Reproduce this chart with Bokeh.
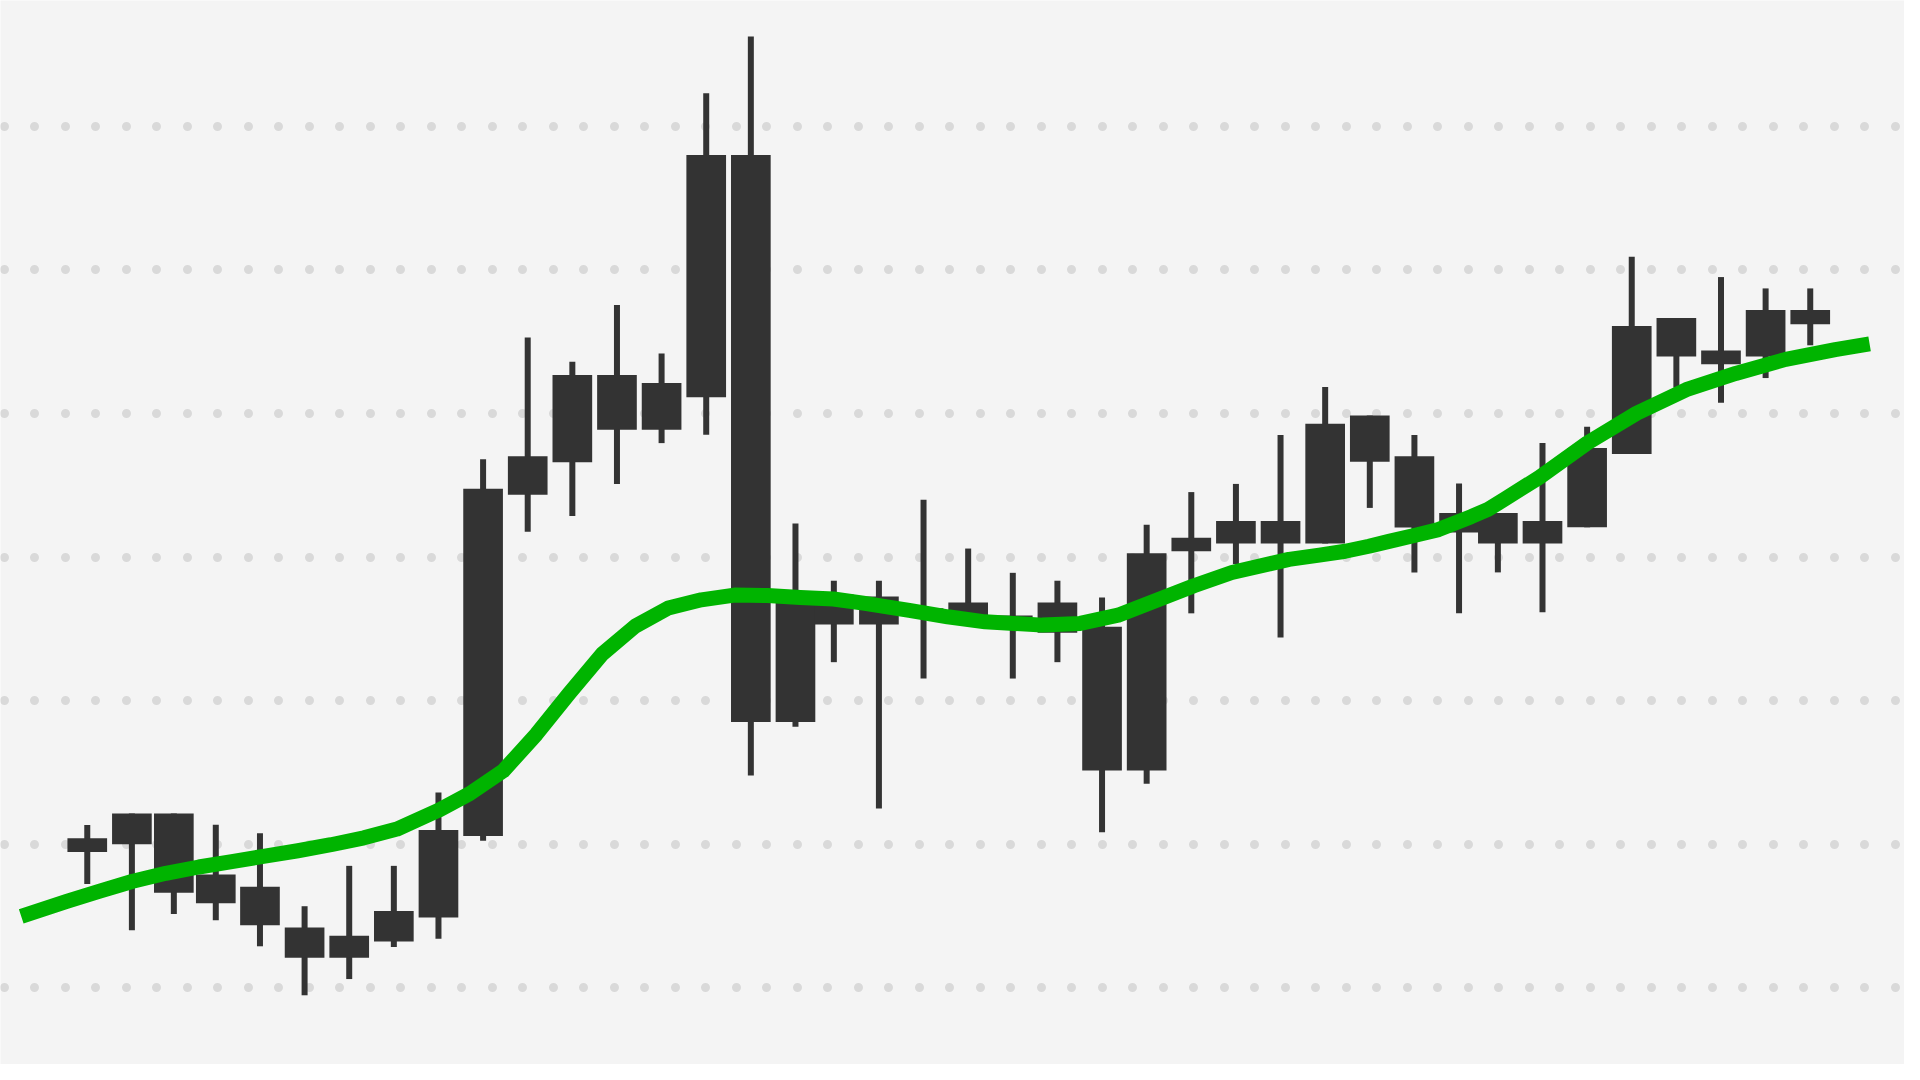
from bokeh.plotting import figure
from bokeh.models import Range1d, Grid, FixedTicker
from bokeh.embed import file_html
from bokeh.resources import INLINE

# ---- data ----
# candle positions (days, irregular sampling)
t = [0.0, 1.0, 1.94, 2.88, 3.87, 4.87, 5.87, 6.87, 7.87, 8.87,
     9.87, 10.87, 11.87, 12.87, 13.87, 14.87, 15.87, 16.73, 17.74, 18.74,
     19.74, 20.74, 21.74, 22.74, 23.74, 24.74, 25.74, 26.74, 27.74, 28.74,
     29.74, 30.74, 31.61, 32.61, 33.61, 34.61, 35.61, 36.61, 37.61, 38.61]

open_ = [109.47, 112.14, 112.14, 107.89, 107.04, 102.10, 102.10, 103.24, 104.91, 110.58,
         137.01, 136.60, 142.68, 142.11, 157.98, 157.98, 118.52, 125.31, 125.31, 126.43,
         126.84, 125.93, 124.73, 125.14, 115.13, 131.34, 132.51, 130.95, 130.95, 139.85,
         137.01, 131.71, 133.06, 132.51, 132.07, 137.17, 146.64, 144.38, 143.96, 147.19]

close = [110.43, 110.01, 106.63, 105.90, 104.36, 104.20, 103.64, 105.35, 110.99, 134.75,
         134.33, 142.68, 138.86, 138.86, 141.12, 118.52, 126.91, 127.39, 127.26, 126.15,
         125.88, 125.67, 126.84, 115.13, 130.27, 130.40, 130.95, 132.51, 139.27, 136.63,
         132.05, 133.06, 130.95, 130.95, 137.59, 146.09, 143.96, 143.42, 147.19, 146.20]

high = [111.34, 112.14, 112.14, 111.36, 110.77, 105.69, 108.50, 108.50, 113.60, 136.80,
        145.29, 143.59, 147.55, 144.17, 162.28, 166.23, 132.33, 128.35, 128.35, 133.99,
        130.59, 128.90, 128.35, 127.18, 132.24, 134.52, 135.09, 138.50, 141.84, 139.85,
        138.50, 135.12, 133.06, 137.93, 139.07, 150.91, 146.64, 149.49, 148.70, 148.70]

low = [107.24, 104.02, 105.14, 104.71, 102.90, 99.49, 100.62, 102.85, 103.43, 110.24,
       131.76, 132.85, 135.09, 137.93, 138.52, 114.79, 118.18, 122.68, 112.50, 121.54,
       125.88, 121.54, 122.68, 110.84, 114.22, 126.08, 129.51, 124.39, 130.95, 133.42,
       128.92, 126.08, 128.93, 126.15, 132.07, 137.17, 141.79, 140.74, 142.46, 144.74]

# smoothed trend line
trend_t = [-1.48, -0.46, 0.28, 1.02, 1.76, 2.50, 3.24, 3.98, 4.72, 5.46,
           6.20, 6.94, 7.87, 8.57, 9.32, 10.06, 10.80, 11.54, 12.28, 13.02,
           13.76, 14.50, 15.24, 15.98, 16.72, 17.39, 18.42, 19.28, 20.12, 21.40,
           22.25, 23.10, 23.95, 24.80, 25.65, 26.93, 27.61, 28.19, 28.72, 29.17,
           29.83, 30.28, 31.01, 31.39, 31.78, 32.54, 33.61, 34.72, 35.83, 36.94,
           38.06, 39.17, 39.94]
trend = [104.98, 106.02, 106.74, 107.43, 107.98, 108.42, 108.80, 109.18, 109.55, 109.97,
         110.45, 111.06, 112.37, 113.53, 115.11, 117.65, 120.51, 123.25, 125.19, 126.45,
         127.02, 127.35, 127.32, 127.18, 127.08, 126.79, 126.29, 125.84, 125.49, 125.26,
         125.38, 125.95, 126.98, 128.00, 128.92, 129.84, 130.13, 130.40, 130.75, 131.09,
         131.57, 131.91, 132.81, 133.32, 134.06, 135.55, 137.93, 140.01, 141.65, 142.78,
         143.76, 144.44, 144.84]

grid_levels = [100, 110, 120, 130, 140, 150, 160]

# ---- figure ----
BG = "#f4f4f4"
p = figure(width=1904, height=1064, output_backend="svg", toolbar_location=None,
           x_axis_type=None, y_axis_type=None,
           x_range=Range1d(-1.9444, 40.7222), y_range=Range1d(94.671, 168.744),
           min_border=0, background_fill_color=BG, border_fill_color=BG)
p.outline_line_color = None

g = Grid(dimension=1, ticker=FixedTicker(ticks=grid_levels),
         grid_line_color="#d9d9d9", grid_line_width=9, grid_line_cap="round",
         grid_line_dash="0 31 0 30", grid_line_dash_offset=27)
p.add_layout(g)

top = [max(o, c) for o, c in zip(open_, close)]
bot = [min(o, c) for o, c in zip(open_, close)]

p.segment(x0=t, y0=low, x1=t, y1=high, line_color="#333333", line_width=6, line_cap="butt")
p.vbar(x=t, width=40 / 45, top=top, bottom=bot, fill_color="#333333", line_color=None)

p.line(trend_t, trend, line_color="#00b400", line_width=15, line_join="round", line_cap="butt")

html = file_html(p, INLINE)
html = html.replace("<body>", '<body style="background:#f4f4f4">', 1)
open("out.html", "w").write(html)
